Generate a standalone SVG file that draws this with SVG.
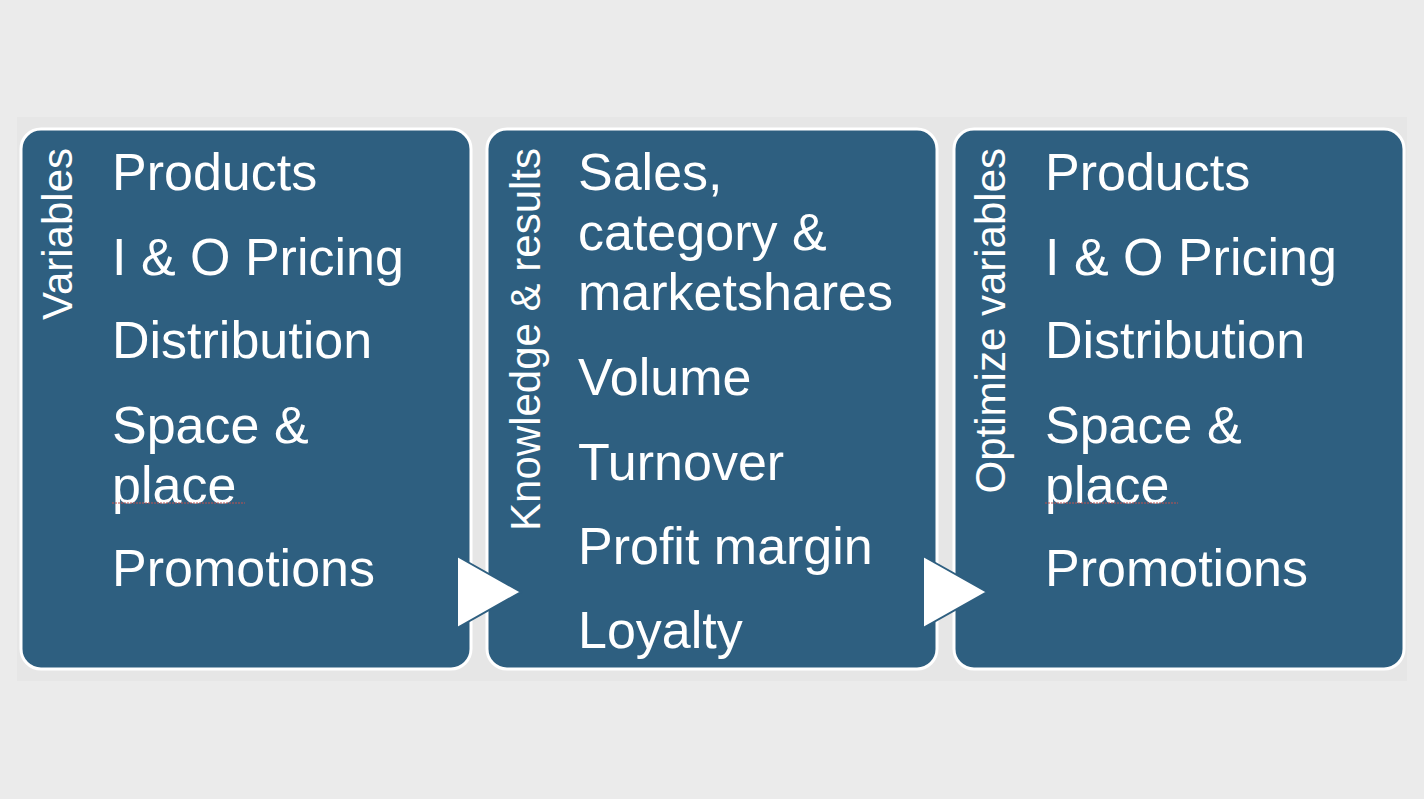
<svg xmlns="http://www.w3.org/2000/svg" width="1424" height="799" viewBox="0 0 1424 799">
<style>
.box{fill:#2e5f80;stroke:#fff;stroke-width:3}
.t{font-family:"Liberation Sans",Arial,sans-serif;font-size:52px;fill:#fff}
.v{font-family:"Liberation Sans",Arial,sans-serif;font-size:42px;fill:#fff;text-anchor:end}
.arr{fill:#fff;stroke:#2e5f80;stroke-width:2}
.sq{stroke:#c0504d;stroke-width:1;stroke-dasharray:2 1}
</style>
<rect width="1424" height="799" fill="#ebebeb"/>
<rect x="17" y="117" width="1390" height="564" fill="#e6e6e6"/>
<g id="n1"><rect class="box" x="21" y="129" width="450" height="540" rx="20"/>
<text class="v" transform="translate(72,148) rotate(-90)">Variables</text>
<text class="t" x="112" y="190">Products</text><text class="t" x="112" y="275">I &amp; O Pricing</text><text class="t" x="112" y="358">Distribution</text><text class="t" x="112" y="443">Space &amp;</text><text class="t" x="112" y="503">place</text><text class="t" x="112" y="586">Promotions</text>
<line class="sq" x1="112" y1="503" x2="245" y2="503"/></g>
<g id="n2"><rect class="box" x="487" y="129" width="450" height="540" rx="20"/>
<text class="v" transform="translate(540,148) rotate(-90)">Knowledge &amp; results</text>
<text class="t" x="578" y="190">Sales,</text><text class="t" x="578" y="250">category &amp;</text><text class="t" x="578" y="310">marketshares</text><text class="t" x="578" y="395">Volume</text><text class="t" x="578" y="480">Turnover</text><text class="t" x="578" y="564">Profit margin</text><text class="t" x="578" y="648">Loyalty</text></g>
<g id="n3"><rect class="box" x="954" y="129" width="450" height="540" rx="20"/>
<text class="v" transform="translate(1005,148) rotate(-90)">Optimize variables</text>
<text class="t" x="1045" y="190">Products</text><text class="t" x="1045" y="275">I &amp; O Pricing</text><text class="t" x="1045" y="358">Distribution</text><text class="t" x="1045" y="443">Space &amp;</text><text class="t" x="1045" y="503">place</text><text class="t" x="1045" y="586">Promotions</text>
<line class="sq" x1="1045" y1="503" x2="1178" y2="503"/></g>
<g id="connectors">
<polygon class="arr" points="457,556 521,592 457,628"/>
<polygon class="arr" points="923,556 987,592 923,628"/>
</g>
</svg>
